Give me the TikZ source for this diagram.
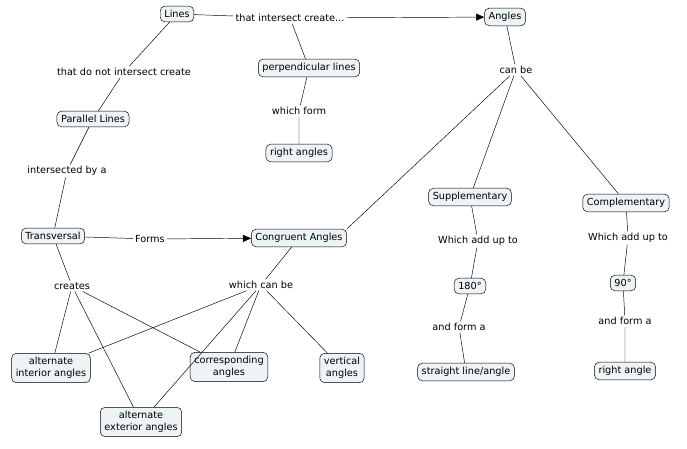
\documentclass[tikz,border=0pt]{standalone}
\usepackage{fontspec}
\setmainfont{DejaVu Sans}
\usepackage{tikz}
\usetikzlibrary{arrows.meta,positioning}
\definecolor{cfill}{HTML}{EEF3F6}
\tikzset{
  concept/.style={draw, rounded corners=4pt, fill=cfill, inner sep=3.5pt, align=center, font=\fontsize{8.3}{10}\selectfont},
  link/.style={inner sep=1.5pt, fill=white, font=\fontsize{8.3}{10}\selectfont},
}
\begin{document}
\begin{tikzpicture}
  \useasboundingbox (0,0) rectangle (20.61,-13.44);
  % concepts
  \node[concept] (lines) at (5.31,-0.42) {Lines};
  \node[concept] (angles) at (15.15,-0.51) {Angles};
  \node[concept] (perp) at (9.27,-2.04) {perpendicular lines};
  \node[concept] (right) at (8.97,-4.59) {right angles};
  \node[concept] (parallel) at (2.79,-3.57) {Parallel Lines};
  \node[concept] (trans) at (1.59,-7.08) {Transversal};
  \node[concept] (congruent) at (8.97,-7.14) {Congruent Angles};
  \node[concept] (supp) at (14.1,-5.91) {Supplementary};
  \node[concept] (comp) at (18.78,-6.09) {Complementary};
  \node[concept] (oneeighty) at (14.1,-8.58) {180°};
  \node[concept] (ninety) at (18.69,-8.49) {90°};
  \node[concept] (straight) at (13.98,-11.16) {straight line/angle};
  \node[concept] (rightangle) at (18.75,-11.13) {right angle};
  \node[concept] (altint) at (1.53,-11.04) {alternate\\interior angles};
  \node[concept] (corr) at (6.87,-11.01) {corresponding\\angles};
  \node[concept] (vert) at (10.26,-11.04) {vertical\\angles};
  \node[concept] (altext) at (4.23,-12.66) {alternate\\exterior angles};
  % linking phrases
  \node[link] (intersect) at (8.7,-0.54) {that intersect create...};
  \node[link] (whichform) at (8.97,-3.33) {which form};
  \node[link] (notint) at (3.72,-2.16) {that do not intersect create};
  \node[link] (intby) at (2.01,-5.13) {intersected by a};
  \node[link] (forms) at (4.5,-7.17) {Forms};
  \node[link] (canbe) at (15.48,-2.1) {can be};
  \node[link] (addone) at (14.34,-7.23) {Which add up to};
  \node[link] (addtwo) at (18.84,-7.14) {Which add up to};
  \node[link] (formone) at (13.77,-9.81) {and form a};
  \node[link] (formtwo) at (18.75,-9.63) {and form a};
  \node[link] (creates) at (2.16,-8.58) {creates};
  \node[link] (whichcan) at (7.83,-8.55) {which can be};
  % connectors
  \draw (lines) -- (intersect);
  \draw[-{Triangle[length=7pt,width=6pt]}] (intersect) -- (angles);
  \draw (intersect) -- (perp);
  \draw (perp) -- (whichform) -- (right);
  \draw (lines) -- (notint) -- (parallel);
  \draw (parallel) -- (intby) -- (trans);
  \draw (trans) -- (forms);
  \draw[-{Triangle[length=7pt,width=6pt]}] (forms) -- (congruent);
  \draw (angles) -- (canbe);
  \draw (canbe) -- (congruent.north east);
  \draw (canbe) -- (supp);
  \draw (canbe) -- (comp);
  \draw (supp) -- (addone) -- (oneeighty) -- (formone) -- (straight);
  \draw (comp) -- (addtwo) -- (ninety) -- (formtwo) -- (rightangle);
  \draw (trans) -- (creates);
  \draw (creates) -- (altint);
  \draw (creates) -- (corr);
  \draw (creates) -- (altext);
  \draw (congruent) -- (whichcan);
  \draw (whichcan) -- (altint);
  \draw (whichcan) -- (corr);
  \draw (whichcan) -- (vert);
  \draw (whichcan) -- (altext);
\end{tikzpicture}
\end{document}
